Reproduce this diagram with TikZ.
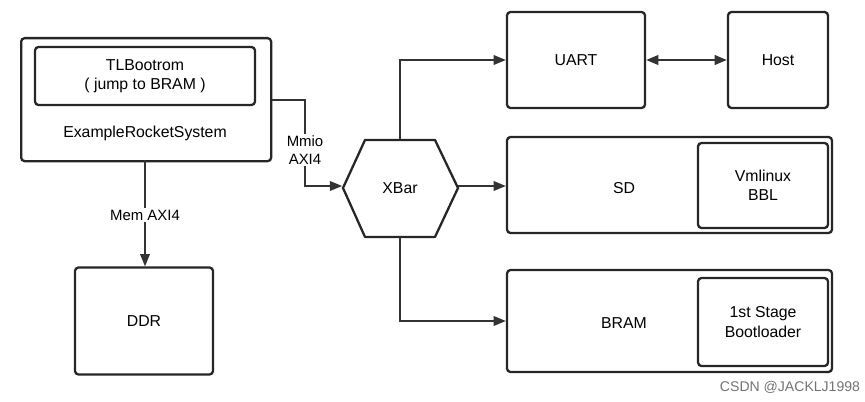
\documentclass[tikz,border=0pt]{standalone}
\usepackage{fontspec}
\setmainfont{Liberation Sans}
\usetikzlibrary{positioning,calc,arrows.meta}
\begin{document}
\begin{tikzpicture}[x=0.02cm,y=-0.02cm,
  box/.style={draw=black!85,line width=1.3pt,rounded corners=2pt,font=\fontsize{9}{11}\selectfont,align=center},
  link/.style={draw=black!80,line width=0.9pt,-{Triangle[length=7pt,width=5.5pt]}},
  lbl/.style={fill=white,font=\fontsize{8.5}{10.5}\selectfont,align=center,inner sep=1pt}]
 \useasboundingbox (0,0) rectangle (865,402);

 \node[box,minimum width=250*0.02cm,minimum height=123*0.02cm,anchor=north west,
   text depth=0pt] (rocket) at (20,37) {};
 \node[box,minimum width=220*0.02cm,minimum height=58*0.02cm] (bootrom) at (145,76)
   {TLBootrom\\(\ jump to BRAM\ )};
 \node[font=\fontsize{9}{11}\selectfont] (rocketlbl) at (145,133) {ExampleRocketSystem};
 \node[box,minimum width=138*0.02cm,minimum height=107*0.02cm] (ddr) at (144,321) {DDR};

 % xbar hexagon
 \node[minimum width=115*0.02cm,minimum height=97*0.02cm,font=\fontsize{9}{11}\selectfont] (xbar) at (400,188) {XBar};
 \draw[draw=black!85,line width=1.3pt,line join=round] (343,188) -- (365,140) -- (435,140)
   -- (458,188) -- (435,237) -- (365,237) -- cycle;

 \node[box,minimum width=138*0.02cm,minimum height=96*0.02cm] (uart) at (576,60) {UART};
 \node[box,minimum width=100*0.02cm,minimum height=96*0.02cm] (host) at (778,60) {Host};
 \node[box,minimum width=325*0.02cm,minimum height=96*0.02cm] (sd) at (669.5,185) {};
 \node[font=\fontsize{9}{11}\selectfont] (sdlbl) at (624,188) {SD};
 \node[box,minimum width=130*0.02cm,minimum height=85*0.02cm] (vmlinux) at (763,185.5) {Vmlinux\\BBL};
 \node[box,minimum width=325*0.02cm,minimum height=102*0.02cm] (bram) at (669.5,321) {};
 \node[font=\fontsize{9}{11}\selectfont] (bramlbl) at (624,323) {BRAM};
 \node[box,minimum width=130*0.02cm,minimum height=88*0.02cm] (stage) at (763,322) {1st Stage\\Bootloader};

 \coordinate (mm) at (305,100);
 \draw[link] (rocket.east |- mm) -- (mm) -- (305,186) -- (xbar.west |- 0,186);
 \node[lbl] (mmio) at (305,150) {Mmio\\AXI4};
 \draw[link] (145,160) -- (ddr.north -| 145,0);
 \node[lbl] (mem) at (145,215) {Mem AXI4};
 \draw[link] (xbar.north) -- (400,60) -- (uart.west);
 \draw[link] (458,186) -- (sd.west |- 0,186);
 \draw[link] (xbar.south) -- (400,321) -- (bram.west);
 \draw[draw=black!80,line width=1.2pt,{Triangle[length=7pt,width=5.5pt]}-{Triangle[length=7pt,width=5.5pt]}] (uart.east) -- (host.west);

 \node[text=black!55,font=\fontsize{8}{10}\selectfont] (mark) at (790,387) {CSDN @JACKLJ1998};
\end{tikzpicture}
\end{document}
